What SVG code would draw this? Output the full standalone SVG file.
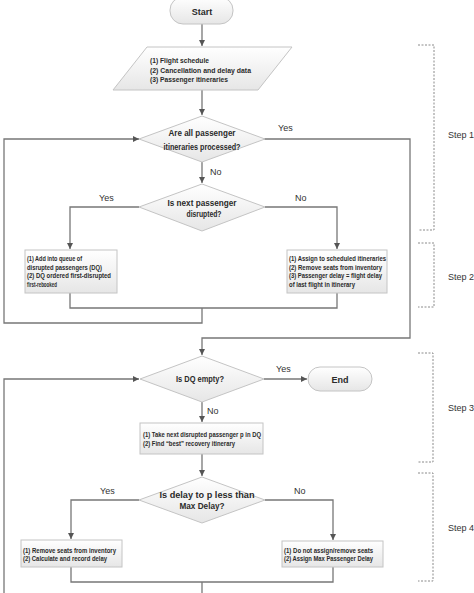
<svg xmlns="http://www.w3.org/2000/svg" width="474" height="593" viewBox="0 0 474 593">
<defs>
<linearGradient id="g" x1="0" y1="0" x2="0" y2="1">
<stop offset="0" stop-color="#ffffff"/>
<stop offset="1" stop-color="#e6e6e6"/>
</linearGradient>
<marker id="arr" markerUnits="userSpaceOnUse" markerWidth="6" markerHeight="6" viewBox="0 0 6 6" refX="6" refY="3" orient="auto">
<path d="M0,0 L6,3 L0,6 z" fill="#555"/>
</marker>
<style>
.shape{fill:url(#g);stroke:#c4c4c4;stroke-width:1}
.c{fill:none;stroke:#777;stroke-width:1.3}
.br{fill:none;stroke:#8a8a8a;stroke-width:1;stroke-dasharray:2 1.5}
.bt{font-family:"Liberation Sans",Arial,sans-serif;fill:#2a2a2a;font-size:6.4px;font-weight:bold}
.dt{font-family:"Liberation Sans",Arial,sans-serif;fill:#2a2a2a;font-size:9px;font-weight:bold;text-anchor:middle}
.lb{font-family:"Liberation Sans",Arial,sans-serif;fill:#333;font-size:9px}
</style>
</defs>
<rect width="474" height="593" fill="#ffffff"/>

<g id="connectors">
<path class="c" d="M202,24 V46" marker-end="url(#arr)"/>
<path class="c" d="M202,90 V115" marker-end="url(#arr)"/>
<path class="c" d="M202,162 V183" marker-end="url(#arr)"/>
<path class="c" d="M139,207 H70 V249" marker-end="url(#arr)"/>
<path class="c" d="M265,207 H337 V249" marker-end="url(#arr)"/>
<path class="c" d="M70,293 V308 H337 V293"/>
<path class="c" d="M202,308 V323 H4 V139 H139" marker-end="url(#arr)"/>
<path class="c" d="M264,139 H410 V338 H202 V355" marker-end="url(#arr)"/>
<path class="c" d="M4,593 V379 H139" marker-end="url(#arr)"/>
<path class="c" d="M264,379 H307" marker-end="url(#arr)"/>
<path class="c" d="M202,402 V422" marker-end="url(#arr)"/>
<path class="c" d="M202,454 V476" marker-end="url(#arr)"/>
<path class="c" d="M139,500 H71 V539" marker-end="url(#arr)"/>
<path class="c" d="M265,500 H333 V540" marker-end="url(#arr)"/>
<path class="c" d="M71,567 V582 H333 V567"/>
<path class="c" d="M202,582 V593"/>
<text class="lb" x="278" y="131">Yes</text>
<text class="lb" x="210" y="175">No</text>
<text class="lb" x="99" y="201">Yes</text>
<text class="lb" x="295" y="201">No</text>
<text class="lb" x="276" y="372">Yes</text>
<text class="lb" x="207" y="414">No</text>
<text class="lb" x="100" y="494">Yes</text>
<text class="lb" x="294" y="494">No</text>
</g>

<g id="start">
<rect class="shape" x="170" y="-3" width="63" height="27" rx="13"/>
<text class="dt" x="202" y="15">Start</text>
</g>

<g id="input">
<polygon class="shape" points="147,47 292,47 258,90 113,90"/>
<text class="bt" x="150" y="63" textLength="59" lengthAdjust="spacingAndGlyphs" style="font-size:7px">(1) Flight schedule</text>
<text class="bt" x="150" y="72.5" textLength="101" lengthAdjust="spacingAndGlyphs" style="font-size:7px">(2) Cancellation and delay data</text>
<text class="bt" x="150" y="82" textLength="78" lengthAdjust="spacingAndGlyphs" style="font-size:7px">(3) Passenger itineraries</text>
</g>

<g id="all-processed">
<polygon class="shape" points="202,116 265,139 202,162 139,139"/>
<text class="dt" x="202" y="136" textLength="67" lengthAdjust="spacingAndGlyphs">Are all passenger</text>
<text class="dt" x="202" y="150" textLength="77" lengthAdjust="spacingAndGlyphs">itineraries processed?</text>
</g>

<g id="disrupted">
<polygon class="shape" points="202,184 265,207 202,231 139,207"/>
<text class="dt" x="202" y="206" textLength="69" lengthAdjust="spacingAndGlyphs">Is next passenger</text>
<text class="dt" x="204" y="216.5" textLength="35" lengthAdjust="spacingAndGlyphs">disrupted?</text>
</g>

<g id="add-dq">
<rect class="shape" x="25" y="250" width="92" height="43"/>
<text class="bt" x="27" y="261" textLength="55" lengthAdjust="spacingAndGlyphs">(1) Add into queue of</text>
<text class="bt" x="27" y="269.5" textLength="75" lengthAdjust="spacingAndGlyphs">disrupted passengers (DQ)</text>
<text class="bt" x="27" y="278" textLength="84" lengthAdjust="spacingAndGlyphs">(2) DQ ordered first-disrupted</text>
<text class="bt" x="27" y="286.5" textLength="30" lengthAdjust="spacingAndGlyphs">first-rebooked</text>
</g>

<g id="assign-scheduled">
<rect class="shape" x="287" y="250" width="100" height="43"/>
<text class="bt" x="289" y="261" textLength="97" lengthAdjust="spacingAndGlyphs">(1) Assign to scheduled itineraries</text>
<text class="bt" x="289" y="269.5" textLength="93" lengthAdjust="spacingAndGlyphs">(2) Remove seats from inventory</text>
<text class="bt" x="289" y="278" textLength="93" lengthAdjust="spacingAndGlyphs">(3) Passenger delay = flight delay</text>
<text class="bt" x="289" y="286.5" textLength="66" lengthAdjust="spacingAndGlyphs">of last flight in itinerary</text>
</g>

<g id="dq-empty">
<polygon class="shape" points="202,356 264,379 202,402 140,379"/>
<text class="dt" x="200" y="382" textLength="48" lengthAdjust="spacingAndGlyphs">Is DQ empty?</text>
</g>

<g id="end">
<rect class="shape" x="308" y="367" width="64" height="24" rx="12"/>
<text class="dt" x="340" y="382.5">End</text>
</g>

<g id="take-next">
<rect class="shape" x="140" y="423" width="123" height="31"/>
<text class="bt" x="143" y="436.5" textLength="118" lengthAdjust="spacingAndGlyphs">(1) Take next disrupted passenger p in DQ</text>
<text class="bt" x="143" y="445.5" textLength="92" lengthAdjust="spacingAndGlyphs">(2) Find “best” recovery itinerary</text>
</g>

<g id="delay-check">
<polygon class="shape" points="202,477 265,500 202,523 139,500"/>
<text class="dt" x="207" y="498" textLength="95" lengthAdjust="spacingAndGlyphs">Is delay to p less than</text>
<text class="dt" x="202" y="509" textLength="45" lengthAdjust="spacingAndGlyphs">Max Delay?</text>
</g>

<g id="remove-seats">
<rect class="shape" x="21" y="540" width="101" height="27"/>
<text class="bt" x="23" y="552.5" textLength="93" lengthAdjust="spacingAndGlyphs">(1) Remove seats from inventory</text>
<text class="bt" x="23" y="561" textLength="84" lengthAdjust="spacingAndGlyphs">(2) Calculate and record delay</text>
</g>

<g id="max-delay">
<rect class="shape" x="282" y="541" width="101" height="26"/>
<text class="bt" x="284" y="552.5" textLength="89" lengthAdjust="spacingAndGlyphs">(1) Do not assign/remove seats</text>
<text class="bt" x="284" y="561" textLength="89" lengthAdjust="spacingAndGlyphs">(2) Assign Max Passenger Delay</text>
</g>

<g id="steps">
<path class="br" d="M418,45 H434 V230 H418"/>
<path class="br" d="M418,243 H434 V307 H418"/>
<path class="br" d="M418,353 H433 V462 H418"/>
<path class="br" d="M418,473 H433 V581 H418"/>
<text class="lb" x="448" y="138">Step 1</text>
<text class="lb" x="448" y="280">Step 2</text>
<text class="lb" x="448" y="411">Step 3</text>
<text class="lb" x="448" y="531">Step 4</text>
</g>
</svg>
